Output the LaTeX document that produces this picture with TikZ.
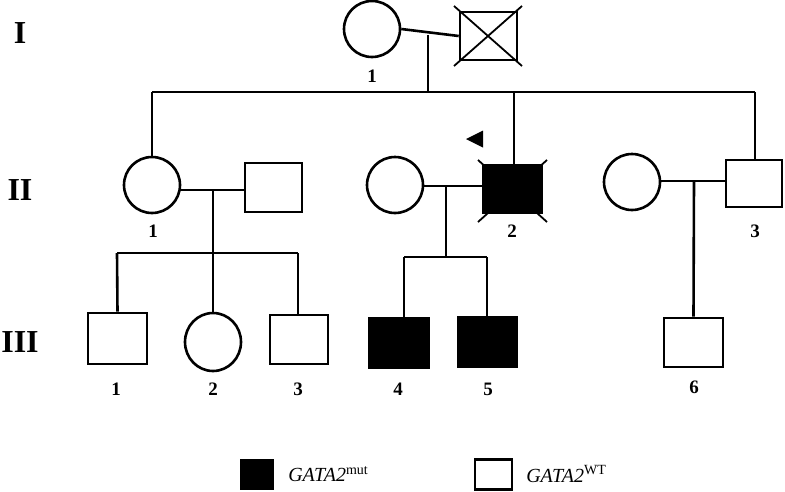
\documentclass[tikz,border=0pt]{standalone}
\usepackage{fontspec}
\setmainfont{Liberation Serif}
\usetikzlibrary{shapes.geometric}
\begin{document}
\begin{tikzpicture}[x=1pt,y=-1pt,line width=2.6pt,
  fem/.style={draw,ellipse,inner sep=0pt,minimum width=56pt,minimum height=56pt},
  num/.style={font=\bfseries\fontsize{19}{19}\selectfont},
  gen/.style={font=\bfseries\fontsize{32}{32}\selectfont},
  leg/.style={font=\itshape\fontsize{20}{20}\selectfont,anchor=west,inner sep=0pt}]
\useasboundingbox (0,0) rectangle (785,491);
% Generation labels
\node[gen] (gI) at (20,33) {I};
\node[gen] (gII) at (20,190) {II};
\node[gen] (gIII) at (20,342) {III};
% Gen I
\node[fem] (i1) at (372,29) {};
\node[draw,minimum width=57pt,minimum height=48pt,inner sep=0pt] (i2) at (488.5,36) {};
\draw[line width=1.8pt] (454,6) -- (522,66) (522,6) -- (454,66);
\node[num] (li1) at (372,76) {1};
\coordinate (m1) at (428,35);
\draw (i1.east) -- (i2.west);
\coordinate (s1) at (428,92);
\draw (m1) -- (s1);
\draw (152,92) -- (755,92);
% Gen II
\node[fem] (ii1) at (152,185) {};
\node[draw,minimum width=57pt,minimum height=49pt,inner sep=0pt] (ii1s) at (273.5,187.5) {};
\node[fem] (ii2w) at (395,185) {};
\node[draw,fill=black,minimum width=59pt,minimum height=48pt,inner sep=0pt] (ii2) at (512.5,189) {};
\draw[line width=1.8pt] (478,160) -- (547,222) (547,160) -- (478,222);
\node[fem] (ii3w) at (632,182) {};
\node[draw,minimum width=56pt,minimum height=47pt,inner sep=0pt] (ii3) at (754,183.5) {};
\draw (152,92) -- (ii1.north);
\draw (514,92) -- (514,165);
\draw (755,92) -- (755,160);
\fill (466,139) -- (483,130.5) -- (483,147.5) -- cycle;
\node[num] (lii1) at (153,231) {1};
\node[num] (lii2) at (512,231) {2};
\node[num] (lii3) at (755,231) {3};
\draw (180,190) -- (245,190);
\draw (423,186) -- (483,186);
\draw (660,181) -- (726,181);
% Gen III
\node[draw,minimum width=59pt,minimum height=51pt,inner sep=0pt] (iii1) at (117.5,338.5) {};
\node[draw,ellipse,inner sep=0pt,minimum width=56pt,minimum height=58pt] (iii2) at (213,342) {};
\node[draw,minimum width=58pt,minimum height=49pt,inner sep=0pt] (iii3) at (299,339.5) {};
\node[draw,fill=black,minimum width=60pt,minimum height=50pt,inner sep=0pt] (iii4) at (399,343) {};
\node[draw,fill=black,minimum width=59pt,minimum height=50pt,inner sep=0pt] (iii5) at (487.5,342) {};
\node[draw,minimum width=59pt,minimum height=49pt,inner sep=0pt] (iii6) at (693.5,342.5) {};
\draw (213,190) -- (213,253);
\draw (117,253) -- (298,253);
\draw (117,253) -- (iii1.north);
\draw (213,253) -- (iii2.north);
\draw (298,253) -- (298,315);
\draw (446,186) -- (446,257);
\draw (404,257) -- (487,257);
\draw (404,257) -- (404,318);
\draw (487,257) -- (487,317);
\draw (694,181) -- (iii6.north);
\node[num] (l1) at (116,389) {1};
\node[num] (l2) at (213,389) {2};
\node[num] (l3) at (298,389) {3};
\node[num] (l4) at (398,389) {4};
\node[num] (l5) at (488,389) {5};
\node[num] (l6) at (694,387) {6};
% Legend
\node[fill=black,minimum width=34pt,minimum height=31pt,inner sep=0pt] (lg1) at (257,474.5) {};
\node[leg] (lt1) at (287,474) {GATA2\textsuperscript{\upshape mut}};
\node[draw,minimum width=37pt,minimum height=30pt,inner sep=0pt] (lg2) at (493.5,474.5) {};
\node[leg] (lt2) at (525,474) {GATA2\textsuperscript{\upshape WT}};
\end{tikzpicture}
\end{document}
